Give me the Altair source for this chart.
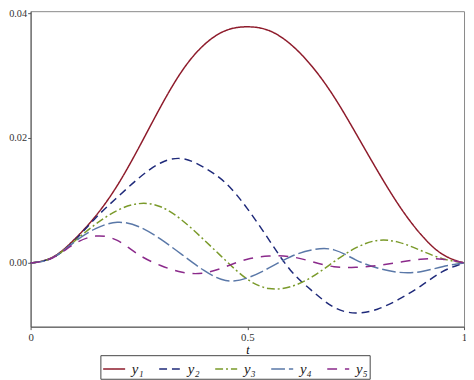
import altair as alt
import pandas as pd

t = [0.0, 0.05, 0.1, 0.15, 0.2, 0.25, 0.3, 0.35, 0.4, 0.45, 0.5,
     0.55, 0.6, 0.65, 0.7, 0.75, 0.8, 0.85, 0.9, 0.95, 1.0]

y1 = [0.0, 0.0009, 0.0037, 0.0075, 0.0124, 0.0185, 0.0250, 0.0308, 0.0349, 0.0372, 0.0378,
      0.0372, 0.0350, 0.0314, 0.0266, 0.0208, 0.0148, 0.0092, 0.0046, 0.0014, 0.0]
y2 = [0.0, 0.0008, 0.0035, 0.0072, 0.0105, 0.0136, 0.0160, 0.0167, 0.0153, 0.0128, 0.0087,
      0.0037, -0.0012, -0.0045, -0.0071, -0.0080, -0.0074, -0.0058, -0.0037, -0.0014, 0.0]
y3 = [0.0, 0.0008, 0.0034, 0.0062, 0.0084, 0.0095, 0.0090, 0.0068, 0.0037, 0.0004, -0.0026,
      -0.0041, -0.0038, -0.0022, 0.0002, 0.0024, 0.0036, 0.0033, 0.0020, 0.0007, 0.0]
y4 = [0.0, 0.0008, 0.0033, 0.0055, 0.0065, 0.0058, 0.0038, 0.0013, -0.0012, -0.0028, -0.0024,
      -0.0008, 0.0010, 0.0021, 0.0021, 0.0005, -0.0008, -0.0015, -0.0014, -0.0006, 0.0]
y5 = [0.0, 0.0008, 0.0030, 0.0043, 0.0036, 0.0013, -0.0004, -0.0015, -0.0016, -0.0006, 0.0006,
      0.0011, 0.0010, 0.0002, -0.0006, -0.0007, -0.0004, 0.0001, 0.0006, 0.0006, 0.0]

names = ["y\u2081", "y\u2082", "y\u2083", "y\u2084", "y\u2085"]
series = [y1, y2, y3, y4, y5]
colors = ["#8E1B2B", "#1F2A7A", "#7A9A2A", "#5A78A8", "#8B2A8B"]
dashes = [[1, 0], [8, 5], [8, 3, 2, 3], [14, 4], [10, 8]]

rows = []
for n, s in zip(names, series):
    for ti, v in zip(t, s):
        rows.append({"t": ti, "value": v, "series": n})
df = pd.DataFrame(rows)

serif = "Liberation Serif"

chart = alt.Chart(df).mark_line(strokeWidth=1.5, interpolate="natural").encode(
    x=alt.X("t:Q", scale=alt.Scale(domain=[0, 1], nice=False),
            axis=alt.Axis(values=[0, 0.5, 1], labelExpr="datum.value == 0.5 ? '0.5' : format(datum.value, 'd')",
                          title="t", titleFontStyle="italic", titleFont=serif, titleFontWeight="normal",
                          titleFontSize=12, titlePadding=2, labelFont=serif, labelFontSize=11,
                          labelColor="#333", tickSize=3, grid=False, domainColor="#555",
                          tickColor="#555", labelPadding=2, labelFlush=False)),
    y=alt.Y("value:Q", scale=alt.Scale(domain=[-0.0102, 0.0403], nice=False, zero=False),
            axis=alt.Axis(values=[0, 0.02, 0.04], format=".2f", title=None, labelFont=serif,
                          labelFontSize=10.5, labelColor="#333", tickSize=3, grid=False,
                          domainColor="#555", tickColor="#555", labelPadding=1)),
    color=alt.Color("series:N", scale=alt.Scale(domain=names, range=colors),
                    legend=alt.Legend(title=None)),
    strokeDash=alt.StrokeDash("series:N", scale=alt.Scale(domain=names, range=dashes),
                              legend=alt.Legend(title=None)),
).properties(
    width=441, height=321,
    autosize=alt.AutoSizeParams(type="none"),
    padding={"left": 23, "top": 0, "right": 2, "bottom": 51},
).configure_view(
    stroke="#888", strokeWidth=1
).configure_legend(
    orient="none", legendX=71, legendY=350, direction="horizontal", columns=5,
    strokeColor="#444", padding=2, symbolType="stroke", symbolSize=500,
    symbolStrokeWidth=1.5, labelFont=serif, labelFontStyle="italic", labelFontSize=15,
    labelColor="#222", columnPadding=12, labelOffset=6
)

chart.save("out.html", embed_options={"renderer": "svg", "actions": False})
